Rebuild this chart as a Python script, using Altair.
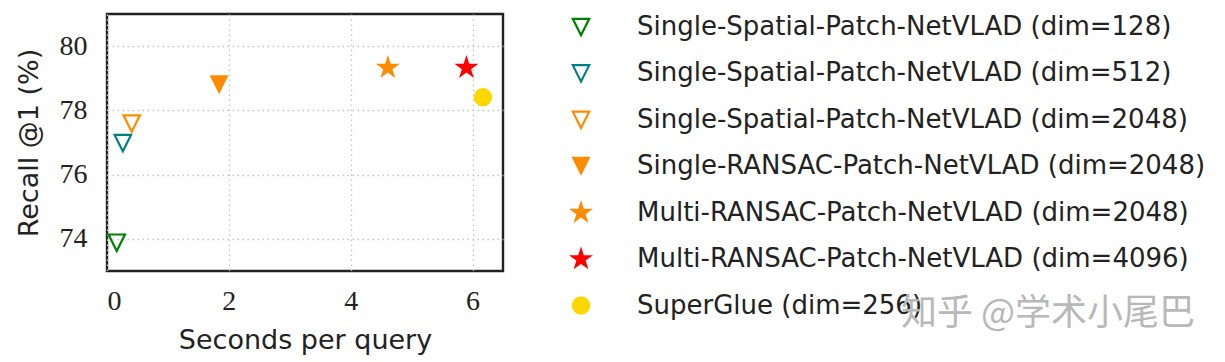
import altair as alt
import pandas as pd

# ---- data ----
labels = [
    "Single-Spatial-Patch-NetVLAD (dim=128)",
    "Single-Spatial-Patch-NetVLAD (dim=512)",
    "Single-Spatial-Patch-NetVLAD (dim=2048)",
    "Single-RANSAC-Patch-NetVLAD (dim=2048)",
    "Multi-RANSAC-Patch-NetVLAD (dim=2048)",
    "Multi-RANSAC-Patch-NetVLAD (dim=4096)",
    "SuperGlue (dim=256)",
]
seconds = [0.16, 0.26, 0.405, 1.84, 4.61, 5.90, 6.17]
recall = [73.88, 76.98, 77.59, 78.80, 79.33, 79.33, 78.41]
marker = ["tri_open", "tri_open", "tri_open", "tri_full", "star", "star", "circle"]
x_ticks = [0, 2, 4, 6]
y_ticks = [74, 76, 78, 80]
watermark = ["知乎 @学术小尾巴"]

# ---- styles ----
TRI = "M0,1L-1,-1L1,-1Z"
STAR = ("M0,-1L-0.2245,-0.309L-0.9511,-0.309L-0.3633,0.118L-0.5878,0.809"
        "L0,0.382L0.5878,0.809L0.3633,0.118L0.9511,-0.309L0.2245,-0.309Z")
colors = ["#008000", "#008080", "#ff8c00", "#ff8c00", "#ff8c00", "#ff0000", "#ffd700"]
SANS = "DejaVu Sans"
SERIF = "Liberation Serif"
INK = "#222222"

df = pd.DataFrame({"label": labels, "seconds": seconds, "recall": recall, "marker": marker})

color_enc = alt.Color("label:N", scale=alt.Scale(domain=labels, range=colors), legend=None)

# (marker kind, shape, size, filled)
STYLES = [
    ("tri_open", TRI, 270, False),
    ("tri_full", TRI, 360, True),
    ("star", STAR, 640, True),
    ("circle", "circle", 340, True),
]


def marker_layers(base, x_enc):
    out = []
    for kind, shape, size, filled in STYLES:
        m = base.transform_filter(alt.datum.marker == kind)
        if filled:
            m = m.mark_point(filled=True, shape=shape, size=size, opacity=1)
        else:
            m = m.mark_point(filled=False, shape=shape, size=size, opacity=1, strokeWidth=2.2)
        enc = {"color": color_enc}
        if x_enc is not None:
            enc["x"] = x_enc
        out.append(m.encode(**enc))
    return out


grid_kw = dict(grid=True, gridColor="#c4c4c4", gridDash=[1.5, 3.5], gridWidth=1.3,
               ticks=False, domain=False, labelColor=INK, titleColor=INK,
               titleFontWeight="normal", format="d")

base = alt.Chart(df).encode(
    x=alt.X("seconds:Q", title="Seconds per query",
            scale=alt.Scale(domain=[0, 6.5], nice=False, zero=False),
            axis=alt.Axis(values=x_ticks, labelFont=SERIF, labelFontSize=28, labelPadding=16,
                          titleFont=SANS, titleFontSize=27, titlePadding=12, **grid_kw)),
    y=alt.Y("recall:Q", title="Recall @1 (%)",
            scale=alt.Scale(domain=[73, 81], nice=False, zero=False),
            axis=alt.Axis(values=y_ticks, labelFont=SERIF, labelFontSize=28, labelPadding=20,
                          titleFont=SANS, titleFontSize=27, titlePadding=16, **grid_kw)),
)
left = alt.layer(*marker_layers(base, None)).properties(width=396, height=257)

leg = alt.Chart(df).encode(
    y=alt.Y("label:N", sort=labels,
            scale=alt.Scale(type="point", range=[13, 291.5], padding=0), axis=None)
)
leg_text = leg.mark_text(align="left", baseline="middle", font=SANS, fontSize=26, color=INK).encode(
    x=alt.value(130), text="label:N")
wm = alt.Chart(pd.DataFrame({"t": watermark})).mark_text(
    align="left", baseline="middle", font="Noto Sans CJK SC", fontSize=36, color="#b8b8b8"
).encode(x=alt.value(394), y=alt.value(300), text="t:N")
right = alt.layer(*marker_layers(leg, alt.value(74)), leg_text, wm).properties(
    width=690, height=320, view=alt.ViewBackground(stroke="transparent"))

chart = alt.hconcat(left, right, spacing=0).properties(
    padding={"left": 5, "top": 4, "right": 0, "bottom": 0}
).configure_view(stroke=INK, strokeWidth=2.4)

chart.save("out.html", embed_options={"renderer": "svg", "actions": False})
